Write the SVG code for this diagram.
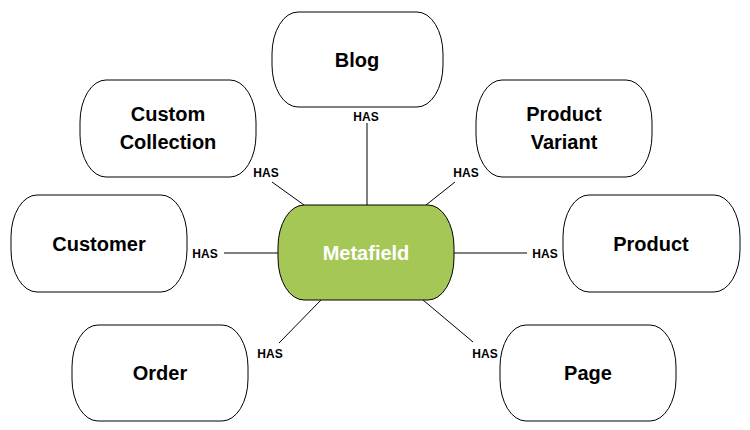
<svg xmlns="http://www.w3.org/2000/svg" width="750" height="430" viewBox="0 0 750 430">
<style>
.n{fill:#fff;stroke:#000;stroke-width:1}
.t{font-family:"Liberation Sans",Arial,sans-serif;font-weight:bold;font-size:20px;text-anchor:middle;fill:#000}
.h{font-family:"Liberation Sans",Arial,sans-serif;font-weight:bold;font-size:12px;text-anchor:middle;fill:#000}
.c line{stroke:#000;stroke-width:1}
</style>
<rect width="750" height="430" fill="#fff"/>
<g class="c" id="connectors">
<line x1="367" y1="123" x2="367" y2="205"/>
<line x1="272" y1="182" x2="304" y2="205"/>
<line x1="455" y1="182" x2="426" y2="205"/>
<line x1="224" y1="253" x2="278" y2="253"/>
<line x1="454" y1="253" x2="527" y2="253"/>
<line x1="321" y1="300" x2="279" y2="343"/>
<line x1="423" y1="300" x2="473" y2="342"/>
<text class="h" x="366" y="121">HAS</text>
<text class="h" x="266" y="177">HAS</text>
<text class="h" x="466" y="177">HAS</text>
<text class="h" x="205" y="258">HAS</text>
<text class="h" x="545" y="258">HAS</text>
<text class="h" x="270" y="358">HAS</text>
<text class="h" x="485" y="358">HAS</text>
</g>
<g id="metafield"><rect x="278" y="205" width="176" height="95" rx="26" ry="42" fill="#a5c756" stroke="#000"/><text class="t" x="366" y="260" fill="#fff" style="fill:#fff">Metafield</text></g>
<g id="blog"><rect class="n" x="272" y="12" width="171" height="95" rx="26" ry="42"/><text class="t" x="357" y="67">Blog</text></g>
<g id="custom-collection"><rect class="n" x="80" y="80" width="176" height="97" rx="26" ry="42"/><text class="t" x="168" y="121">Custom</text><text class="t" x="168" y="149">Collection</text></g>
<g id="product-variant"><rect class="n" x="476" y="80" width="176" height="97" rx="26" ry="42"/><text class="t" x="564" y="121">Product</text><text class="t" x="564" y="149">Variant</text></g>
<g id="customer"><rect class="n" x="11" y="195" width="176" height="97" rx="26" ry="42"/><text class="t" x="99" y="251">Customer</text></g>
<g id="product"><rect class="n" x="563" y="195" width="177" height="97" rx="26" ry="42"/><text class="t" x="651" y="251">Product</text></g>
<g id="order"><rect class="n" x="72" y="325" width="176" height="96" rx="26" ry="42"/><text class="t" x="160" y="380">Order</text></g>
<g id="page"><rect class="n" x="500" y="325" width="176" height="96" rx="26" ry="42"/><text class="t" x="588" y="380">Page</text></g>
</svg>
